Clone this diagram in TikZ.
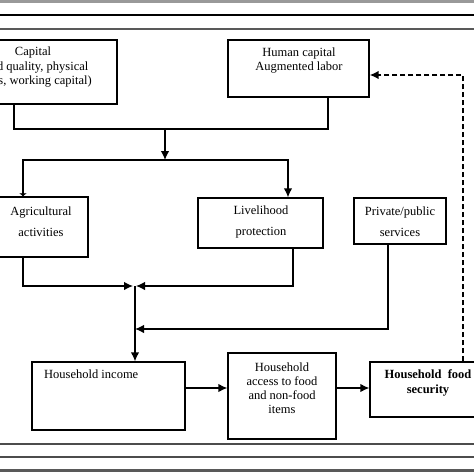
\documentclass[tikz,border=0pt]{standalone}
\usepackage{fontspec}
\setmainfont{Liberation Serif}
\usetikzlibrary{arrows.meta}
\begin{document}
\begin{tikzpicture}[x=1pt,y=-1pt,
  box/.style={draw, line width=1.3pt, rectangle, inner sep=0pt},
  txt/.style={inner sep=0pt, align=center, font=\fontsize{12.5}{14.5}\selectfont},
  conn/.style={line width=1.3pt},
  arr/.style={conn, -{Latex[length=9pt,width=8.5pt]}},
  dsh/.style={line width=1.5pt, dash pattern=on 5pt off 3pt, -{Latex[length=9pt,width=8.5pt]}},
  frame/.style={line width=1.2pt}]
\useasboundingbox (0,0) rectangle (474,474);
\clip (0,0) rectangle (474,474);
% frame lines
\draw[line width=3pt, gray!80] (0,1) -- (474,1);
\draw[frame, black] (0,15) -- (474,15);
\draw[line width=1.5pt, black!65] (0,29) -- (474,29);
\draw[frame, black!70] (0,444) -- (474,444);
\draw[frame, black!70] (0,457) -- (474,457);
\draw[line width=2.2pt, black!65] (0,470.5) -- (474,470.5);
% boxes
\node[box, minimum width=168pt, minimum height=64pt] (cap) at (33,72) {};
\node[txt] (captxt) at (33,67.5) {Capital\\(land quality, physical\\assets, working capital)};
\node[box, minimum width=141pt, minimum height=57pt] (hum) at (298.5,68.5) {};
\node[txt] (humtxt) at (299,60.5) {Human capital\\Augmented labor};
\node[box, minimum width=94pt, minimum height=60pt] (agr) at (41,227) {};
\node[txt, font=\fontsize{12.5}{21}\selectfont] (agrtxt) at (41,221.5) {Agricultural\\activities};
\node[box, minimum width=125pt, minimum height=50pt] (liv) at (260.5,223) {};
\node[txt, font=\fontsize{12.5}{21}\selectfont] (livtxt) at (261,221.5) {Livelihood\\protection};
\node[box, minimum width=92pt, minimum height=46pt] (pri) at (400,221) {};
\node[txt, font=\fontsize{12.5}{21}\selectfont] (pritxt) at (400,221.5) {Private/public\\services};
\node[box, minimum width=153pt, minimum height=68pt] (hinc) at (108.5,396) {};
\node[txt, anchor=west] (hinctxt) at (44,374) {Household income};
\node[box, minimum width=108pt, minimum height=86pt] (acc) at (282,396) {};
\node[txt, font=\fontsize{12.5}{14}\selectfont] (acctxt) at (282,388) {Household\\access to food\\and non-food\\items};
\node[box, minimum width=116pt, minimum height=55pt] (fs) at (428,389.5) {};
\node[txt, font=\fontsize{12.5}{15}\selectfont\bfseries] (fstxt) at (428,382.5) {Household\ \ food\\security};
% junctions
\coordinate (j1) at (165,129);
\coordinate (j2) at (165,160);
\coordinate (j3) at (135,286);
\coordinate (j4) at (135,329);
\coordinate (r1) at (0,388);
\coordinate (d1) at (463,75);
% capital + human -> j1
\draw[conn] ([xshift=-19pt]cap.south) |- (j1) -| ([xshift=29.5pt]hum.south);
\draw[arr] (j1) -- (j2);
\draw[conn, -{Latex[length=3pt,width=8pt]}] (j2) -| ([xshift=-18pt]agr.north);
\draw[arr] (j2) -| ([xshift=27.5pt]liv.north);
% to household income
\draw[arr] ([xshift=-18pt]agr.south) |- ([xshift=-2pt]j3);
\draw[arr] ([xshift=32.5pt]liv.south) |- ([xshift=1pt]j3);
\draw[arr] (j3) -- (j3 |- hinc.north);
\draw[arr] ([xshift=-12pt]pri.south) |- (j4);
% bottom chain
\draw[arr] (hinc.east |- r1) -- (acc.west |- r1);
\draw[arr] (acc.east |- r1) -- (fs.west |- r1);
% feedback
\draw[dsh] (fs.north -| d1) -- (d1) -- (hum.east |- d1);
\end{tikzpicture}
\end{document}
